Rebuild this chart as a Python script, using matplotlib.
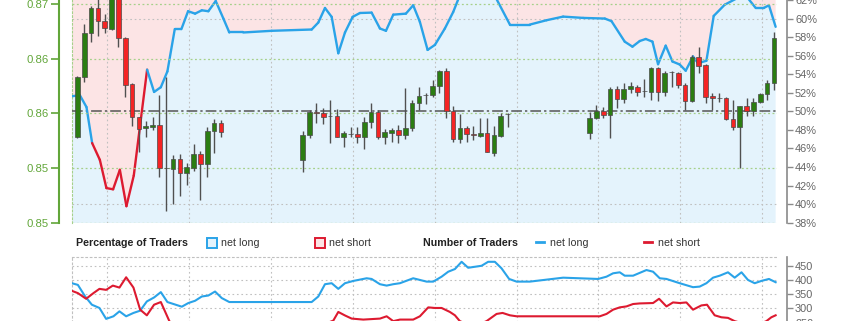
import matplotlib
matplotlib.use("Agg")
import matplotlib.pyplot as plt
import numpy as np
from matplotlib.collections import LineCollection
from matplotlib.lines import Line2D
from matplotlib.patches import Rectangle
from matplotlib.ticker import FormatStrFormatter

plt.rcParams["font.family"] = ["Liberation Sans", "DejaVu Sans"]

COLOR_UP = "#2b7d12"
COLOR_DOWN = "#f42424"
COLOR_DOJI = "#666666"
COLOR_WICK = "#505050"
COLOR_LONG = "#2aa3e8"
COLOR_SHORT = "#dd1a30"
COLOR_LONG_FILL = "#e4f3fc"
COLOR_SHORT_FILL = "#fce4e5"
COLOR_PRICE_AXIS = "#62a63a"
COLOR_GRID_PRICE = "#a6d08a"
COLOR_GRID = "#c0c0c0"
COLOR_AXIS = "#8a8a8a"
COLOR_LABEL = "#666666"

nan = np.nan

# candles, one per bar index (gaps = no data)
OPEN = [0.85788, 0.86336, 0.86738, 0.86961, 0.86845, 0.86769, 0.87064, 0.86687, 0.86266, 0.85965,
        0.85864, 0.85873, 0.85894, 0.85499, 0.85490, 0.85581, 0.85458, 0.85504, 0.85629, 0.85535,
        0.85840, 0.85916] + [nan] * 11 + [
        0.85575, 0.85803, 0.86016, 0.86007, 0.85976, 0.85977, 0.85782, 0.85810, 0.85812, 0.85788,
        0.85919, 0.86016, 0.85782, 0.85824, 0.85849, 0.85806, 0.85864, 0.86098, 0.86166, 0.86169,
        0.86251, 0.86391, 0.86025, 0.85764, 0.85864, 0.85809, 0.85794, 0.85819, 0.85641, 0.85794,
        0.85992] + [nan] * 11 + [
        0.85824, 0.85961, 0.86022, 0.85983, 0.86221, 0.86132, 0.86221, 0.86245, 0.86205, 0.86199,
        0.86413, 0.86193, 0.86376, 0.86372, 0.86260, 0.86117, 0.86519, 0.86443, 0.86160, 0.86139,
        0.86139, 0.85949, 0.85879, 0.86068, 0.86022, 0.86102, 0.86178, 0.86281]
HIGH = [0.86342, 0.86818, 0.86982, 0.87055, 0.86909, 0.87092, 0.87110, 0.86699, 0.86278, 0.85970,
        0.85934, 0.85968, 0.86169, 0.86330, 0.85620, 0.85629, 0.85550, 0.85718, 0.85659, 0.85879,
        0.85952, 0.85940] + [nan] * 11 + [
        0.85840, 0.86032, 0.86098, 0.86050, 0.86123, 0.86043, 0.85842, 0.85879, 0.85873, 0.85965,
        0.86098, 0.86032, 0.85855, 0.85867, 0.85894, 0.86230, 0.86123, 0.86245, 0.86184, 0.86306,
        0.86397, 0.86413, 0.86068, 0.85995, 0.85885, 0.85885, 0.85956, 0.85956, 0.85885, 0.86007,
        0.86001] + [nan] * 11 + [
        0.86016, 0.86075, 0.86062, 0.86239, 0.86251, 0.86276, 0.86290, 0.86260, 0.86312, 0.86422,
        0.86427, 0.86391, 0.86391, 0.86382, 0.86281, 0.86534, 0.86610, 0.86452, 0.86184, 0.86190,
        0.86153, 0.86123, 0.86070, 0.86139, 0.86144, 0.86190, 0.86306, 0.86742]
LOW = [0.85773, 0.86290, 0.86656, 0.86708, 0.86733, 0.86758, 0.86610, 0.86148, 0.85888, 0.85650,
       0.85788, 0.85849, 0.85422, 0.85111, 0.85172, 0.85246, 0.85346, 0.85477, 0.85212, 0.85422,
       0.85641, 0.85782] + [nan] * 11 + [
       0.85468, 0.85773, 0.85916, 0.85904, 0.85727, 0.85780, 0.85691, 0.85782, 0.85733, 0.85678,
       0.85864, 0.85764, 0.85721, 0.85742, 0.85733, 0.85764, 0.85842, 0.86032, 0.86086, 0.86153,
       0.86190, 0.85956, 0.85742, 0.85733, 0.85742, 0.85757, 0.85782, 0.85648, 0.85611, 0.85782,
       0.85879] + [nan] * 11 + [
       0.85764, 0.85952, 0.85961, 0.85773, 0.86053, 0.86098, 0.86190, 0.86160, 0.86153, 0.86123,
       0.86114, 0.86162, 0.86239, 0.86230, 0.86032, 0.86107, 0.86372, 0.86098, 0.86032, 0.86107,
       0.85940, 0.85849, 0.85499, 0.85977, 0.85979, 0.86093, 0.86123, 0.86214]
CLOSE = [0.86330, 0.86738, 0.86961, 0.86848, 0.86778, 0.87046, 0.86687, 0.86260, 0.85965, 0.85855,
         0.85883, 0.85897, 0.85499, 0.85500, 0.85581, 0.85453, 0.85513, 0.85629, 0.85538, 0.85842,
         0.85916, 0.85833] + [nan] * 11 + [
         0.85803, 0.86016, 0.86007, 0.85970, 0.85977, 0.85782, 0.85824, 0.85809, 0.85782, 0.85919,
         0.86016, 0.85782, 0.85828, 0.85849, 0.85806, 0.85870, 0.86098, 0.86160, 0.86169, 0.86251,
         0.86391, 0.86025, 0.85764, 0.85864, 0.85809, 0.85800, 0.85819, 0.85650, 0.85803, 0.85977,
         0.85993] + [nan] * 11 + [
         0.85956, 0.86022, 0.85983, 0.86221, 0.86132, 0.86221, 0.86251, 0.86199, 0.86206, 0.86413,
         0.86193, 0.86367, 0.86377, 0.86260, 0.86117, 0.86519, 0.86437, 0.86153, 0.86139, 0.86140,
         0.85947, 0.85879, 0.86068, 0.86022, 0.86102, 0.86178, 0.86281, 0.86687]

# percentage of traders net long (time in bar units)
SENT_T = [-0.78, 0.35, 1.32, 2.15, 3.28, 4.24, 5.22, 6.21, 7.17, 8.25, 10.20, 11.22, 12.21, 13.17,
          14.25, 15.22, 16.20, 17.23, 18.21, 19.17, 20.25, 21.37, 22.24, 24.29, 28.45, 34.30, 35.27,
          36.25, 37.23, 38.20, 39.18, 40.30, 41.37, 43.08, 44.30, 45.18, 46.25, 48.10, 49.17, 50.15,
          51.28, 52.35, 53.81, 55.03, 56.30, 60.69, 63.33, 66.25, 68.70, 71.13, 74.05, 77.23, 78.21,
          80.15, 81.28, 82.35, 83.23, 84.21, 85.03, 86.15, 87.14, 88.20, 89.08, 90.15, 90.88, 92.11,
          93.18, 94.79, 97.72, 99.33, 100.50, 101.27, 102.25]
SENT_PCT = [51.63, 51.74, 50.46, 46.58, 44.77, 41.73, 41.60, 43.70, 39.78, 43.09, 54.49, 52.09, 52.60,
            54.30, 58.86, 58.86, 60.79, 60.53, 60.89, 60.79, 61.89, 60.00, 58.50, 58.50, 58.68, 58.82,
            59.57, 61.14, 60.18, 56.26, 58.50, 60.18, 60.60, 60.64, 58.93, 58.68, 60.42, 60.53, 61.43,
            59.64, 56.62, 57.16, 58.93, 60.71, 63.06, 63.06, 59.35, 59.35, 59.82, 60.21, 60.07, 60.00,
            59.72, 57.51, 56.97, 57.58, 57.80, 57.51, 55.08, 57.08, 55.37, 55.05, 54.38, 55.91, 55.19,
            55.45, 60.28, 61.49, 62.63, 61.14, 61.14, 61.43, 59.11]

# number of traders
LONG_T = [-0.82, 0.06, 1.13, 2.11, 3.22, 4.20, 5.27, 6.15, 7.13, 8.20, 9.18, 10.16, 11.22, 12.21,
          13.17, 15.28, 16.24, 17.23, 18.21, 19.17, 20.15, 21.13, 22.24, 28.30, 34.30, 35.27, 36.25,
          37.23, 38.20, 39.18, 40.39, 42.35, 43.08, 44.30, 45.28, 46.25, 47.23, 49.17, 50.15, 51.13,
          52.10, 53.33, 54.30, 55.28, 56.26, 57.22, 58.20, 59.18, 60.15, 61.13, 62.11, 63.22, 64.31,
          66.25, 71.13, 76.25, 77.48, 78.44, 79.42, 80.15, 81.37, 83.33, 84.30, 85.28, 86.26, 88.20,
          90.15, 91.13, 92.11, 93.08, 94.06, 95.27, 96.25, 97.25, 98.20, 99.18, 100.16, 101.27, 102.25]
LONG_N = [388.6, 382.7, 341.8, 312.9, 301.4, 263.0, 272.1, 289.5, 272.1, 283.9, 291.9, 324.4, 338.4,
          357.2, 322.3, 305.9, 318.8, 326.8, 341.8, 345.3, 359.3, 336.3, 322.3, 322.3, 322.3, 341.8,
          385.1, 388.6, 368.7, 388.6, 396.6, 406.0, 403.6, 385.1, 380.2, 385.1, 388.6, 406.0, 400.1,
          394.2, 394.2, 411.6, 429.1, 438.5, 464.0, 443.0, 446.5, 450.0, 464.0, 464.0, 440.9, 403.6,
          394.2, 394.2, 408.1, 403.6, 411.6, 423.5, 427.0, 415.1, 415.1, 435.0, 429.1, 406.0, 403.6,
          388.6, 374.6, 376.7, 388.6, 408.1, 415.1, 427.0, 408.1, 427.0, 400.1, 388.6, 396.6, 403.6,
          392.1]
SHORT_T = [-0.82, 0.06, 1.27, 2.34, 3.22, 4.20, 5.18, 6.15, 7.13, 8.20, 9.18, 10.16, 11.22, 12.21,
           13.46, 15.28, 17.23, 19.17, 20.15, 22.24, 28.30, 34.30, 35.27, 36.25, 37.47, 38.20, 39.18,
           40.16, 41.86, 44.30, 45.28, 46.25, 47.23, 49.17, 50.15, 51.37, 52.35, 53.33, 54.54, 55.28,
           56.00, 56.99, 58.93, 59.91, 61.38, 62.26, 63.33, 64.31, 71.13, 76.50, 77.48, 78.44, 79.42,
           80.40, 81.37, 82.35, 84.30, 85.18, 86.26, 87.22, 88.20, 89.18, 90.15, 91.38, 92.20, 93.32,
           94.31, 95.27, 96.25, 97.72, 99.91, 100.89, 101.62, 102.25]
SHORT_N = [361.7, 353.7, 333.8, 353.7, 368.7, 365.2, 380.2, 373.2, 409.5, 373.2, 295.4, 275.5, 312.9,
           322.3, 255.0, 214.0, 213.0, 223.0, 221.0, 228.0, 227.0, 226.0, 232.0, 245.0, 257.0, 287.4,
           275.0, 264.0, 260.5, 264.0, 272.1, 255.0, 260.5, 260.5, 272.1, 303.5, 301.4, 301.4, 287.4,
           275.6, 255.0, 245.0, 245.0, 255.0, 280.4, 283.9, 275.6, 272.1, 272.1, 272.1, 280.4, 295.4,
           303.5, 306.9, 315.3, 317.4, 318.8, 333.8, 306.9, 320.9, 318.8, 320.9, 295.4, 310.4, 312.9,
           275.6, 268.6, 266.5, 255.0, 245.0, 245.0, 255.0, 268.6, 275.6]

PRICE_TICKS = [0.850, 0.855, 0.860, 0.865, 0.870]
PCT_TICKS = list(range(38, 63, 2))
PCT_GRID = [40, 60]
COUNT_TICKS = [200, 250, 300, 350, 400, 450]
X_GRID = [4.3 + 12 * k for k in range(9)]

W, H = 845, 321
FS_TICK = 7.9
FS_LEGEND = 7.7


def fx(px):
    return px / W


def fy(py):
    return 1 - py / H


fig = plt.figure(figsize=(W / 100, H / 100), dpi=100)

# ---- top pane: sentiment % (right) + price candles (left)
ax_pct = fig.add_axes([fx(72), fy(222.7), (777 - 72) / W, 222.7 / H])
ax_price = ax_pct.twinx()

ax_pct.set_xlim(-0.8, 102.45)
ax_pct.set_ylim(38, 61.78)
ax_price.set_ylim(0.850, 0.870366)

t = np.array(SENT_T)
pct = np.array(SENT_PCT)
ax_pct.fill_between(t, pct, 100, color=COLOR_SHORT_FILL, lw=0, zorder=0)
ax_pct.fill_between(t, 0, pct, color=COLOR_LONG_FILL, lw=0, zorder=0)
for g in PCT_GRID:
    ax_pct.axhline(g, color=COLOR_GRID, ls=(0, (1.5, 2.5)), lw=0.8, zorder=1)
ax_pct.axhline(50, color="#555555", ls=(0, (7, 2, 1.5, 2)), lw=1.1, zorder=3)

pts = np.column_stack([t, pct])
segs = np.stack([pts[:-1], pts[1:]], axis=1)
seg_colors = [COLOR_SHORT if p < 50 else COLOR_LONG for p in pct[:-1]]
ax_pct.add_collection(LineCollection(segs, colors=seg_colors, linewidths=1.7,
                                     capstyle="round", joinstyle="round", zorder=4))

ax_pct.set_xticks(X_GRID)
ax_pct.tick_params(axis="x", length=0, labelbottom=False)
ax_pct.grid(axis="x", color=COLOR_GRID, ls=(0, (1.5, 2.5)), lw=0.8)
ax_pct.set_axisbelow(True)

ax_pct.yaxis.tick_right()
ax_pct.set_yticks(PCT_TICKS)
ax_pct.set_yticklabels([f"{v}%" for v in PCT_TICKS])
ax_pct.tick_params(axis="y", colors=COLOR_AXIS, labelcolor=COLOR_LABEL, labelsize=FS_TICK,
                   length=4, width=1, pad=2)
for side in ("top", "bottom"):
    ax_pct.spines[side].set_visible(False)
ax_pct.spines["left"].set_color(COLOR_GRID_PRICE)
ax_pct.spines["left"].set_linestyle((0, (1.5, 2)))
ax_pct.spines["right"].set_position(("outward", 7))
ax_pct.spines["right"].set_color(COLOR_AXIS)
ax_pct.spines["right"].set_linewidth(1.2)

# candles
idx = np.arange(len(OPEN))
o = np.array(OPEN)
h = np.array(HIGH)
l = np.array(LOW)
c = np.array(CLOSE)
ok = ~np.isnan(o)
ax_price.vlines(idx[ok], l[ok], h[ok], color=COLOR_WICK, lw=1.0, zorder=2)
body_colors = []
for oo, cc in zip(o[ok], c[ok]):
    if abs(cc - oo) < 0.00003:
        body_colors.append(COLOR_DOJI)
    elif cc > oo:
        body_colors.append(COLOR_UP)
    else:
        body_colors.append(COLOR_DOWN)
bottoms = np.minimum(o[ok], c[ok])
heights = np.maximum(np.abs(c[ok] - o[ok]), 0.00002)
ax_price.bar(idx[ok], heights, bottom=bottoms, width=0.68, color=body_colors,
             edgecolor="#4a4a4a", linewidth=0.5, zorder=3)

ax_price.yaxis.tick_left()
ax_price.yaxis.set_label_position("left")
ax_price.set_yticks(PRICE_TICKS)
ax_price.yaxis.set_major_formatter(FormatStrFormatter("%.2f"))
ax_price.tick_params(axis="y", colors=COLOR_PRICE_AXIS, labelcolor=COLOR_PRICE_AXIS,
                     labelsize=FS_TICK + 0.3, length=6, width=1.2, pad=1.5)
ax_price.grid(axis="y", color=COLOR_GRID_PRICE, ls=(0, (1.5, 2)), lw=0.9)
ax_price.set_axisbelow(True)
for side in ("top", "bottom", "right"):
    ax_price.spines[side].set_visible(False)
ax_price.spines["left"].set_position(("outward", 9))
ax_price.spines["left"].set_color(COLOR_PRICE_AXIS)
ax_price.spines["left"].set_linewidth(1.5)

# ---- legend row
fig.text(fx(76), fy(242.5), "Percentage of Traders", fontsize=FS_LEGEND, fontweight="bold",
         color="#222222", va="center", ha="left")
fig.add_artist(Rectangle((fx(207), fy(247.5)), 10 / W, 10 / H, transform=fig.transFigure,
                         facecolor=COLOR_LONG_FILL, edgecolor=COLOR_LONG, lw=1.4))
fig.text(fx(221.5), fy(242.5), "net long", fontsize=FS_LEGEND, color="#333333", va="center")
fig.add_artist(Rectangle((fx(315), fy(247.5)), 10 / W, 10 / H, transform=fig.transFigure,
                         facecolor=COLOR_SHORT_FILL, edgecolor=COLOR_SHORT, lw=1.4))
fig.text(fx(329.5), fy(242.5), "net short", fontsize=FS_LEGEND, color="#333333", va="center")
fig.text(fx(423), fy(242.5), "Number of Traders", fontsize=FS_LEGEND, fontweight="bold",
         color="#222222", va="center", ha="left")
fig.add_artist(Line2D([fx(536), fx(544.5)], [fy(242.3), fy(242.3)], transform=fig.transFigure,
                      color=COLOR_LONG, lw=2))
fig.text(fx(550), fy(242.5), "net long", fontsize=FS_LEGEND, color="#333333", va="center")
fig.add_artist(Line2D([fx(644), fx(652.5)], [fy(242.3), fy(242.3)], transform=fig.transFigure,
                      color=COLOR_SHORT, lw=2))
fig.text(fx(658), fy(242.5), "net short", fontsize=FS_LEGEND, color="#333333", va="center")

# ---- bottom pane: number of traders
ax_cnt = fig.add_axes([fx(72), fy(345), (777 - 72) / W, (345 - 257.4) / H])
ax_cnt.set_xlim(-0.8, 102.45)
ax_cnt.set_ylim(171, 479.5)
ax_cnt.plot(LONG_T, LONG_N, color=COLOR_LONG, lw=1.5, solid_joinstyle="round", zorder=3)
ax_cnt.plot(SHORT_T, SHORT_N, color=COLOR_SHORT, lw=1.5, solid_joinstyle="round", zorder=3)
ax_cnt.set_xticks(X_GRID)
ax_cnt.tick_params(axis="x", length=0, labelbottom=False)
ax_cnt.yaxis.tick_right()
ax_cnt.set_yticks(COUNT_TICKS)
ax_cnt.tick_params(axis="y", colors=COLOR_AXIS, labelcolor=COLOR_LABEL, labelsize=FS_TICK,
                   length=4, width=1, pad=2)
ax_cnt.grid(True, color=COLOR_GRID, ls=(0, (1.5, 2.5)), lw=0.8)
ax_cnt.set_axisbelow(True)
ax_cnt.spines["bottom"].set_visible(False)
for side in ("top", "left"):
    ax_cnt.spines[side].set_color(COLOR_GRID)
    ax_cnt.spines[side].set_linestyle((0, (1.5, 2.5)))
    ax_cnt.spines[side].set_linewidth(0.8)
ax_cnt.spines["right"].set_position(("outward", 7))
ax_cnt.spines["right"].set_color(COLOR_AXIS)
ax_cnt.spines["right"].set_linewidth(1.2)

fig.savefig("out.png", dpi=100)
plt.close(fig)
